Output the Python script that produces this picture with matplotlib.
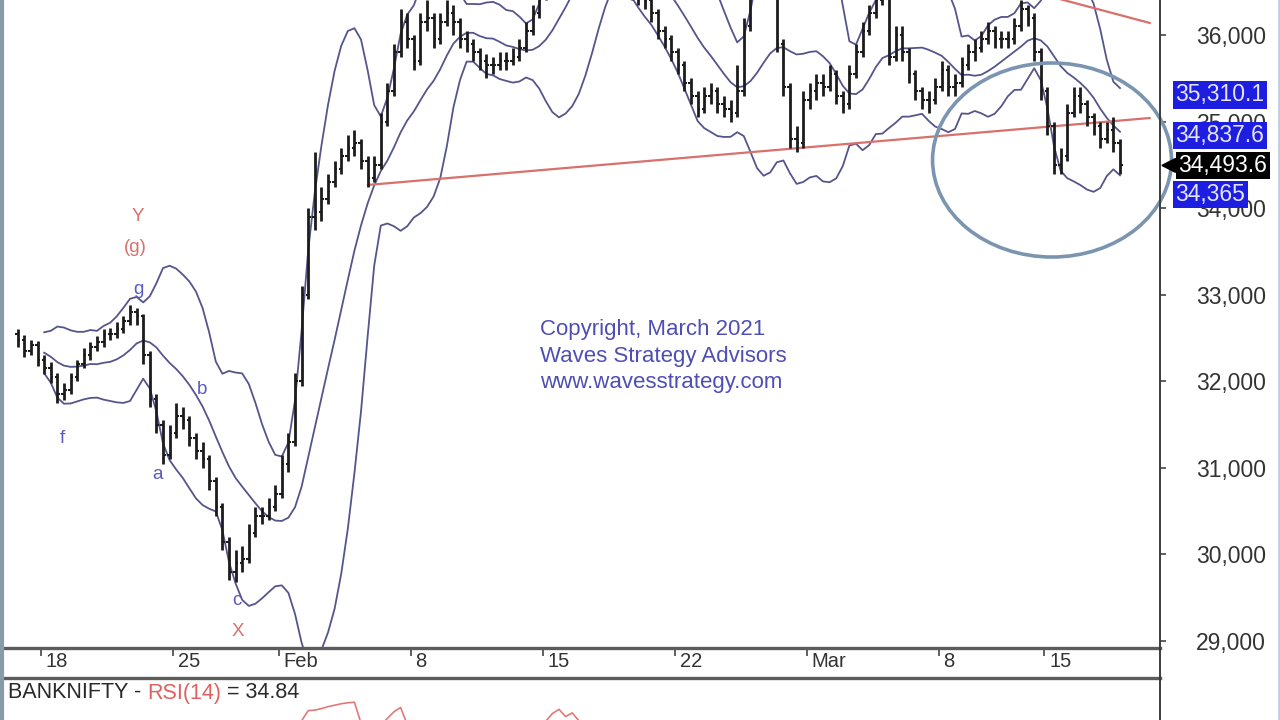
import numpy as np
import pandas as pd
import matplotlib
matplotlib.use("Agg")
import matplotlib.pyplot as plt
import matplotlib.transforms as mtransforms
from matplotlib.patches import Ellipse, Polygon
from matplotlib.lines import Line2D
from matplotlib.collections import LineCollection

plt.rcParams['font.family'] = ['Liberation Sans', 'DejaVu Sans']

# ---------------- data ----------------
days = ["2021-01-15",
        "2021-01-18", "2021-01-19", "2021-01-20", "2021-01-21", "2021-01-22",
        "2021-01-25", "2021-01-27", "2021-01-28", "2021-01-29",
        "2021-02-01", "2021-02-02", "2021-02-03", "2021-02-04", "2021-02-05",
        "2021-02-08", "2021-02-09", "2021-02-10", "2021-02-11", "2021-02-12",
        "2021-02-15", "2021-02-16", "2021-02-17", "2021-02-18", "2021-02-19",
        "2021-02-22", "2021-02-23", "2021-02-24", "2021-02-25", "2021-02-26",
        "2021-03-01", "2021-03-02", "2021-03-03", "2021-03-04", "2021-03-05",
        "2021-03-08", "2021-03-09", "2021-03-10", "2021-03-12",
        "2021-03-15", "2021-03-16", "2021-03-17"]
bars_per_day = 4

first_open = 32550
closes = [32480, 32350, 32420, 32250,  32150, 32050, 31850, 31900,
          32050, 32200, 32300, 32400,  32450, 32550, 32550, 32600,
          32700, 32800, 32750, 32300,  31800, 31500, 31150, 31400,
          31600, 31550, 31350, 31200,  31100, 30850, 30550, 30150,
          29800, 29900, 29950, 30250,  30450, 30450, 30550, 30700,
          31050, 31300, 32000, 33000,  33900, 33950, 34100, 34300,
          34450, 34600, 34700, 34750,  34550, 34350, 34500, 35000,
          35350, 35800, 36150, 35950,  35700, 36150, 36200, 35950,
          36150, 36250, 36150, 35950,  35900, 35800, 35700, 35650,
          35650, 35700, 35700, 35750,  35850, 36050, 36250, 36450,
          36800, 37100, 37300, 37250,  37400, 37350, 37200, 37100,
          37000, 36900, 36800, 36700,  36650, 36500, 36450, 36400,
          36250, 36050, 35950, 35800,  35650, 35450, 35300, 35150,
          35300, 35350, 35200, 35150,  35100, 35350, 36100, 36500,
          36800, 36850, 36600, 35900,  35400, 34800, 34750, 35250,
          35350, 35450, 35400, 35550,  35300, 35200, 35550, 35800,
          36050, 36250, 36400, 36500,  35750, 36000, 35800, 35550,
          35350, 35250, 35250, 35400,  35600, 35400, 35450, 35650,
          35800, 35850, 35950, 36050,  35950, 35950, 35950, 36100,
          36300, 36200, 35800, 35350,  34950, 34500, 34600, 35100,
          35300, 35200, 35050, 34950,  34800, 34900, 34750, 34493.6]
highs = [32600, 32530, 32480, 32460,  32300, 32220, 32100, 31980,
         32100, 32250, 32380, 32450,  32520, 32600, 32620, 32680,
         32760, 32880, 32850, 32780,  32350, 31850, 31550, 31500,
         31750, 31700, 31600, 31400,  31300, 31150, 30900, 30600,
         30200, 30050, 30100, 30350,  30550, 30550, 30650, 30800,
         31150, 31400, 32100, 33100,  34000, 34650, 34250, 34400,
         34550, 34700, 34850, 34900,  34800, 34600, 34600, 35100,
         35450, 35900, 36300, 36250,  36000, 36250, 36400, 36250,
         36250, 36400, 36350, 36200,  36050, 35950, 35850, 35780,
         35750, 35800, 35800, 35850,  35950, 36150, 36350, 36550,
         36900, 37200, 37400, 37400,  37500, 37500, 37400, 37300,
         37150, 37050, 36950, 36850,  36800, 36700, 36600, 36550,
         36450, 36300, 36100, 36000,  35850, 35700, 35500, 35350,
         35400, 35450, 35400, 35300,  35250, 35650, 36200, 36600,
         36900, 36950, 36900, 36650,  35950, 35450, 34950, 35350,
         35450, 35550, 35550, 35650,  35600, 35350, 35650, 35900,
         36150, 36350, 36500, 36600,  36550, 36100, 36100, 35850,
         35600, 35400, 35350, 35500,  35700, 35650, 35550, 35750,
         35900, 35950, 36050, 36150,  36100, 36050, 36050, 36200,
         36400, 36350, 36250, 35850,  35400, 35000, 34700, 35200,
         35400, 35400, 35250, 35100,  35000, 35000, 35050, 34800]
lows = [32400, 32280, 32300, 32180,  32080, 31980, 31750, 31780,
        31850, 32000, 32150, 32250,  32350, 32400, 32480, 32500,
        32560, 32650, 32650, 32200,  31700, 31400, 31050, 31100,
        31350, 31450, 31250, 31100,  31000, 30750, 30450, 30050,
        29700, 29680, 29800, 29900,  30200, 30350, 30400, 30500,
        30650, 30950, 31250, 31950,  32950, 33750, 33850, 34050,
        34250, 34400, 34550, 34600,  34450, 34250, 34300, 34450,
        34950, 35300, 35750, 35850,  35600, 35650, 36050, 35850,
        35900, 36100, 36000, 35850,  35800, 35700, 35600, 35500,
        35550, 35600, 35600, 35650,  35700, 35800, 36000, 36200,
        36400, 36750, 37050, 37150,  37200, 37250, 37100, 37000,
        36900, 36800, 36700, 36600,  36550, 36400, 36350, 36300,
        36150, 35950, 35850, 35700,  35550, 35350, 35200, 35050,
        35100, 35200, 35100, 35050,  35000, 35050, 35300, 36050,
        36450, 36700, 36500, 35800,  35300, 34700, 34650, 34700,
        35150, 35250, 35300, 35350,  35200, 35100, 35150, 35500,
        35750, 36000, 36200, 36350,  35650, 35700, 35700, 35450,
        35250, 35150, 35100, 35200,  35350, 35300, 35300, 35400,
        35600, 35700, 35800, 35900,  35850, 35850, 35850, 35900,
        36050, 36100, 35700, 35250,  34850, 34400, 34400, 34550,
        35050, 35100, 34950, 34850,  34700, 34750, 34650, 34400]

tick_days = ["2021-01-18", "2021-01-25", "2021-02-01", "2021-02-08", "2021-02-15",
             "2021-02-22", "2021-03-01", "2021-03-08", "2021-03-15"]
tick_labels = ["18", "25", "Feb", "8", "15", "22", "Mar", "8", "15"]
price_ticks = [29000, 30000, 31000, 32000, 33000, 34000, 35000, 36000]

# last values shown in the right-hand scale boxes
upper_last = 35310.1
middle_last = 34837.6
price_last = 34493.6
lower_last = 34365

# Elliott wave labels
wave_text = ["Y", "(g)", "g", "f", "a", "b", "c", "X"]
wave_day = [4.68, 4.56, 4.71, 1.80, 5.43, 7.10, 8.43, 8.46]
wave_price = [33909, 33540, 33055, 31345, 30929, 31900, 29474, 29105]
wave_color = ["red", "red", "blue", "blue", "blue", "blue", "blue", "red"]

# trend lines (day position, price)
support_line = ([13.39, 43.0], [34268, 35041])
resist_line = ([38.3, 43.0], [36520, 36139])

bb_period = 12
bb_k = 2.0
rsi_period = 9

# ---------------- derived ----------------
n = len(closes)
closes_s = pd.Series(closes, dtype=float)
opens = [first_open] + closes[:-1]
xpos = np.array([i // bars_per_day + (i % bars_per_day + 0.5) / bars_per_day for i in range(n)])

mid = closes_s.rolling(bb_period, min_periods=5).mean()
sd = closes_s.rolling(bb_period, min_periods=5).std(ddof=0)
upper = mid + bb_k * sd
lower = mid - bb_k * sd

delta = closes_s.diff()
gain = delta.clip(lower=0)
loss = -delta.clip(upper=0)
ag = gain.ewm(alpha=1 / rsi_period, adjust=False).mean()
al = loss.ewm(alpha=1 / rsi_period, adjust=False).mean()
rsi = 100 - 100 / (1 + ag / al.replace(0, np.nan))

# ---------------- figure ----------------
W, H = 1280, 720
fig = plt.figure(figsize=(W / 100, H / 100), dpi=100)
fig.patch.set_facecolor("white")

ax = fig.add_axes([5 / W, 72 / H, 1155 / W, 648 / H])
ax.set_xlim(-0.36, 43.39)
ax.set_ylim(28920, 36404)
for s in ax.spines.values():
    s.set_visible(False)

BAR = "#1c1c1c"
BAND = "#55558c"
RED = "#d9706c"
BLUE_TXT = "#5a5ac0"

# OHLC bars
hl = [((x, lo), (x, hi)) for x, lo, hi in zip(xpos, lows, highs)]
op = [((x - 0.1, o), (x, o)) for x, o in zip(xpos, opens)]
cl = [((x, c), (x + 0.1, c)) for x, c in zip(xpos, closes)]
ax.add_collection(LineCollection(hl, colors=BAR, linewidths=2.0, zorder=3))
ax.add_collection(LineCollection(op, colors=BAR, linewidths=1.5, zorder=3))
ax.add_collection(LineCollection(cl, colors=BAR, linewidths=1.5, zorder=3))

# Bollinger bands
for series in (upper, mid, lower):
    ax.plot(xpos, series, color=BAND, lw=1.3, zorder=2)

# trend lines
ax.plot(*support_line, color=RED, lw=1.6, zorder=2.5)
ax.plot(*resist_line, color=RED, lw=1.6, zorder=2.5)

# circle highlight
ell = Ellipse((39.3, 34556), width=9.05, height=2241, fill=False,
              edgecolor="#7b95b0", lw=2.6, zorder=4, clip_on=False)
ax.add_patch(ell)

# wave labels
for t, xd, yp, c in zip(wave_text, wave_day, wave_price, wave_color):
    ax.text(xd, yp, t, color=RED if c == "red" else BLUE_TXT,
            fontsize=13.5, ha="center", va="center", zorder=5)

# copyright text
for k, line in enumerate(["Copyright, March 2021", "Waves Strategy Advisors",
                          "www.wavesstrategy.com"]):
    ax.text(19.9, 32593 - k * 306, line, color="#4e4eb4", fontsize=16,
            ha="left", va="center", zorder=5)

# x axis (dates)
tick_pos = [days.index(d) for d in tick_days]
ax.set_xticks(tick_pos)
ax.set_xticklabels(tick_labels)
ax.tick_params(axis="x", direction="out", length=6, width=1.2, color="#444",
               pad=-3, labelsize=14.5, labelcolor="#333")
shift = mtransforms.ScaledTranslation(5 / 100, 0, fig.dpi_scale_trans)
for lab in ax.get_xticklabels():
    lab.set_ha("left")
    lab.set_transform(lab.get_transform() + shift)

# y axis (prices) on right
ax.yaxis.tick_right()
ax.set_yticks(price_ticks)
ax.set_yticklabels([f"{v:,}" for v in price_ticks])
ax.tick_params(axis="y", direction="out", length=4, width=1.2, color="#444",
               pad=22, labelsize=16.5, labelcolor="#333")

# right scale value boxes
bt = mtransforms.blended_transform_factory(ax.transAxes, ax.transData)
down = mtransforms.ScaledTranslation(0, -18 / 100, fig.dpi_scale_trans)
box_kw = dict(boxstyle="square,pad=0.1", ec="none")
BOXFS = 16.5
ax.text(1.0135, upper_last, f"{upper_last:,.1f}", transform=bt, fontsize=BOXFS,
        color="#e4e4ff", ha="left", va="center", clip_on=False, zorder=6,
        bbox=dict(fc="#1e1ee0", **box_kw))
ax.text(1.0135, middle_last, f"{middle_last:,.1f}", transform=bt, fontsize=BOXFS,
        color="#e4e4ff", ha="left", va="center", clip_on=False, zorder=6,
        bbox=dict(fc="#1e1ee0", **box_kw))
ax.text(1.016, price_last, f"{price_last:,.1f}", transform=bt, fontsize=BOXFS,
        color="white", ha="left", va="center", clip_on=False, zorder=7,
        bbox=dict(fc="black", **box_kw))
ax.text(1.0135, lower_last, f"{lower_last:,}", transform=bt + down, fontsize=BOXFS,
        color="#e4e4ff", ha="left", va="center", clip_on=False, zorder=6,
        bbox=dict(fc="#1e1ee0", **box_kw))
tri = Polygon([[1.0017, price_last], [1.0135, price_last + 80],
               [1.0135, price_last - 80]], closed=True, transform=bt,
              fc="black", ec="black", clip_on=False, zorder=7)
ax.add_patch(tri)

# RSI panel (mostly below the visible area)
rax = fig.add_axes([5 / W, (40 - 220) / H, 1155 / W, 220 / H])
rax.set_xlim(ax.get_xlim())
rax.set_ylim(10, 100)
rax.plot(xpos, rsi, color="#e07a7a", lw=1.2)
rax.set_xticks([])
rax.set_yticks([])
rax.patch.set_alpha(0)
for s in rax.spines.values():
    s.set_visible(False)

# RSI title with coloured part
fig.canvas.draw()
renderer = fig.canvas.get_renderer()
TFS = 15.5
ty = 1 - 693 / H
parts = [("BANKNIFTY - ", "#2a2a2a"), ("RSI(14)", "#e06060"), (" = 34.84", "#2a2a2a")]
xcur = 8 / W
for txt, col in parts:
    t = fig.text(xcur, ty, txt, fontsize=TFS, color=col, ha="left", va="center")
    bb = t.get_window_extent(renderer)
    xcur = bb.x1 / W

# frame lines
def fline(x0, y0, x1, y1, **kw):
    fig.add_artist(Line2D([x0 / W, x1 / W], [1 - y0 / H, 1 - y1 / H],
                          transform=fig.transFigure, **kw))

fline(0, 648, 1160, 648, color="#5c5c5c", lw=2.4)
fline(0, 678, 1160, 678, color="#5c5c5c", lw=2.4)
fline(1160, 0, 1160, 720, color="#3c3c3c", lw=1.4)
fline(1.5, 0, 1.5, 720, color="#8a9ba8", lw=3)
fline(1278.5, 0, 1278.5, 720, color="#b8cfe6", lw=2)

fig.savefig("out.png", dpi=100, facecolor="white")
